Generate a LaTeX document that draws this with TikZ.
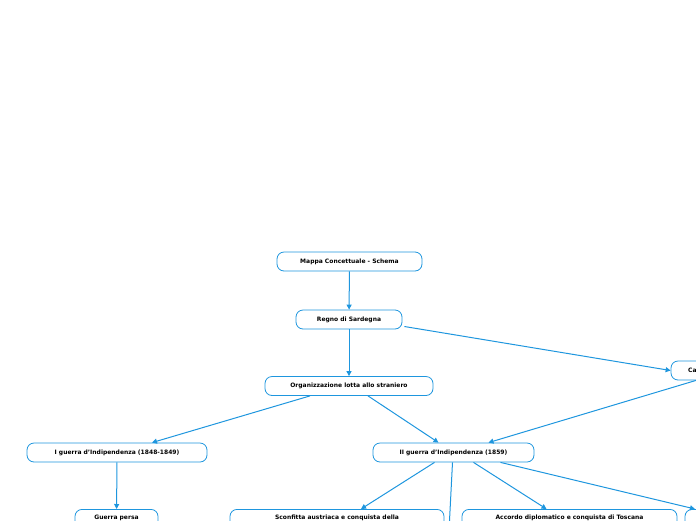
\documentclass[tikz,border=0pt]{standalone}
\usepackage{fontspec}
\setmainfont{DejaVu Sans}
\usetikzlibrary{arrows.meta}
\definecolor{bl}{RGB}{30,150,222}
\begin{document}
\begin{tikzpicture}[x=1pt,y=-1pt,
 box/.style={draw=bl,line width=0.8pt,rounded corners=7pt,inner sep=0pt,minimum height=19pt,font=\fontsize{6}{7}\selectfont\bfseries,fill=white},
 con/.style={draw=bl,line width=1pt,-{Triangle[length=5pt,width=5pt]}}]
\useasboundingbox (0,0) rectangle (696,520);
\clip (0,0) rectangle (696,520);
\node[box,minimum width=145pt] (m) at (349.5,261.5) {Mappa Concettuale - Schema};
\node[box,minimum width=106pt] (r) at (349,319.5) {Regno di Sardegna};
\node[box,minimum width=58pt] (c) at (700,370.5) {Cavour};
\node[box,minimum width=168pt] (o) at (349,386) {Organizzazione lotta allo straniero};
\node[box,minimum width=180pt] (i) at (117,452.5) {I guerra d'Indipendenza (1848-1849)};
\node[box,minimum width=161pt] (ii) at (453.5,452.5) {II guerra d'Indipendenza (1859)};
\node[box,minimum width=83pt,minimum height=30pt,anchor=north,text depth=14pt] (g) at (116.5,509) {Guerra persa};
\node[box,minimum width=214pt,minimum height=30pt,anchor=north,text depth=14pt] (s) at (337,509) {Sconfitta austriaca e conquista della\hspace{80pt}};
\node[box,minimum width=215pt,minimum height=30pt,anchor=north,text depth=14pt] (a) at (569.5,509) {Accordo diplomatico e conquista di Toscana};
\node[box,minimum width=120pt,minimum height=30pt,anchor=north] (x) at (745,509) {};
\node[box,minimum width=60pt,anchor=north] (y) at (448,540) {};
\draw[con] (m) -- (r);
\draw[con] (r.east) ++(2,7) -- (c.west);
\draw[con] (r) -- (o);
\draw[con] ([xshift=-39pt]o.south) -- ([xshift=35pt]i.north);
\draw[con] ([xshift=19pt]o.south) -- ([xshift=-15pt]ii.north);
\draw[con] ([xshift=-4pt]c.south) -- ([xshift=35pt]ii.north);
\draw[con] (i) -- (g);
\draw[con] ([xshift=-19pt]ii.south) -- ([xshift=24pt]s.north);
\draw[con] ([xshift=-1pt]ii.south) -- (y);
\draw[con] ([xshift=20pt]ii.south) -- ([xshift=-23pt]a.north);
\draw[con] ([xshift=47pt]ii.south) -- ([xshift=-50pt]x.north);
\end{tikzpicture}
\end{document}
